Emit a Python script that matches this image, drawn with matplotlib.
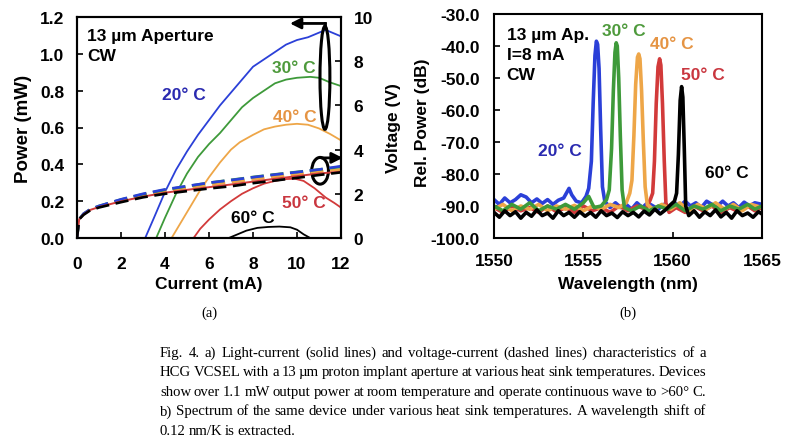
import matplotlib
matplotlib.use('Agg')
import matplotlib.pyplot as plt
from matplotlib.patches import Ellipse
from matplotlib.ticker import FormatStrFormatter

plt.rcParams['font.family'] = ['Liberation Sans', 'DejaVu Sans']
plt.rcParams['font.weight'] = 'bold'
plt.rcParams['axes.labelweight'] = 'bold'
plt.rcParams['axes.unicode_minus'] = False

# ---------------- (a) light-current, current (mA) / power (mW)
i20 = [3.1, 3.5, 4.0, 4.5, 5.0, 5.5, 6.0, 6.5, 7.0, 7.5, 8.0, 8.5, 9.0, 9.5, 10.0, 10.5, 11.0, 11.3, 11.6, 12.0]
p20 = [0.0, 0.11, 0.25, 0.37, 0.47, 0.56, 0.64, 0.72, 0.79, 0.86, 0.93, 0.97, 1.01, 1.05, 1.075, 1.09, 1.115, 1.13, 1.115, 1.095]
i30 = [3.6, 4.0, 4.5, 5.0, 5.5, 6.0, 6.5, 7.0, 7.5, 8.0, 8.5, 9.0, 9.5, 10.0, 10.6, 11.0, 11.5, 12.0]
p30 = [0.0, 0.11, 0.24, 0.35, 0.44, 0.51, 0.57, 0.64, 0.71, 0.76, 0.80, 0.84, 0.86, 0.87, 0.875, 0.87, 0.845, 0.825]
i40 = [4.3, 4.6, 5.0, 5.6, 6.0, 6.5, 7.0, 7.4, 8.0, 8.5, 9.0, 9.5, 10.0, 10.5, 11.0, 11.5, 12.0]
p40 = [0.0, 0.06, 0.14, 0.26, 0.33, 0.41, 0.48, 0.52, 0.56, 0.59, 0.605, 0.615, 0.62, 0.615, 0.595, 0.565, 0.53]
i50 = [5.3, 5.6, 6.0, 6.5, 7.0, 7.5, 8.0, 8.5, 9.0, 9.5, 9.9, 10.3, 10.8, 11.3, 11.7, 12.0]
p50 = [0.0, 0.05, 0.10, 0.155, 0.20, 0.24, 0.27, 0.295, 0.31, 0.32, 0.322, 0.31, 0.27, 0.22, 0.19, 0.165]
i60 = [6.9, 7.3, 7.7, 8.2, 8.7, 9.2, 9.7, 10.0, 10.3, 10.6]
p60 = [0.0, 0.02, 0.04, 0.055, 0.06, 0.062, 0.058, 0.045, 0.02, 0.0]

# voltage-current, current (mA) / voltage (V)
iv = [0, 0.1, 0.3, 0.6, 1, 2, 3, 4, 5, 6, 7, 8, 9, 10, 11, 12]
v20 = [0, 0.85, 1.1, 1.3, 1.45, 1.75, 2.0, 2.2, 2.35, 2.5, 2.62, 2.75, 2.87, 2.98, 3.1, 3.25]
v30 = [0, 0.85, 1.1, 1.3, 1.45, 1.74, 1.98, 2.18, 2.34, 2.5, 2.63, 2.76, 2.88, 2.99, 3.1, 3.22]
v40 = [0, 0.85, 1.08, 1.28, 1.42, 1.7, 1.93, 2.12, 2.27, 2.4, 2.52, 2.65, 2.77, 2.88, 3.0, 3.1]
v50 = [0, 0.85, 1.07, 1.27, 1.4, 1.66, 1.87, 2.05, 2.18, 2.3, 2.42, 2.55, 2.68, 2.8, 2.92, 3.0]
v60 = [0, 0.85, 1.05, 1.25, 1.38, 1.62, 1.84, 2.0, 2.12, 2.24, 2.34, 2.48, 2.6, 2.72, 2.85, 2.97]

# ---------------- (b) spectra at I=8 mA, (wavelength nm, rel. power dB)
spec20 = [(1550.0, -88.0), (1550.3, -89.5), (1550.6, -87.5), (1550.9, -89.0), (1551.2, -88.0), (1551.5, -86.5),
          (1551.8, -87.2), (1552.1, -89.0), (1552.4, -87.8), (1552.7, -89.2), (1553.0, -88.0), (1553.3, -89.5),
          (1553.6, -88.2), (1553.9, -87.5), (1554.05, -86.0), (1554.2, -84.5), (1554.35, -86.5), (1554.6, -88.5),
          (1554.9, -89.0), (1555.15, -87.0), (1555.3, -84.5), (1555.45, -76.0), (1555.55, -58.0), (1555.65, -43.0),
          (1555.73, -38.5), (1555.8, -39.5), (1555.88, -47.0), (1555.97, -66.0), (1556.07, -84.0), (1556.2, -88.5),
          (1556.5, -90.5), (1556.8, -89.0), (1557.1, -90.5), (1557.4, -89.5), (1557.7, -91.0), (1558.0, -89.0),
          (1558.3, -90.5), (1558.6, -89.0), (1558.9, -90.0), (1559.2, -91.0), (1559.5, -89.5), (1559.8, -90.5),
          (1560.1, -89.0), (1560.4, -90.0), (1560.7, -88.5), (1561.0, -90.0), (1561.3, -89.0), (1561.6, -90.5),
          (1561.9, -88.5), (1562.2, -89.5), (1562.5, -90.0), (1562.8, -88.5), (1563.1, -90.0), (1563.4, -89.0),
          (1563.7, -90.5), (1564.0, -88.8), (1564.3, -90.0), (1564.6, -89.0), (1565.0, -89.5)]
spec30 = [(1550.0, -90.0), (1550.5, -91.5), (1551.0, -89.5), (1551.5, -91.0), (1552.0, -89.0), (1552.5, -91.5),
          (1553.0, -90.0), (1553.5, -91.0), (1554.0, -89.5), (1554.5, -91.0), (1555.0, -89.0), (1555.3, -87.0),
          (1555.6, -90.5), (1556.0, -90.0), (1556.3, -88.0), (1556.45, -85.0), (1556.58, -72.0), (1556.68, -54.0),
          (1556.77, -42.0), (1556.84, -39.0), (1556.9, -40.0), (1556.98, -50.0), (1557.07, -68.0), (1557.17, -85.0),
          (1557.3, -90.5), (1557.7, -91.5), (1558.2, -90.0), (1558.7, -91.5), (1559.2, -90.0), (1559.7, -91.0),
          (1560.2, -89.5), (1560.7, -91.5), (1561.2, -90.0), (1561.7, -91.0), (1562.2, -89.5), (1562.7, -91.5),
          (1563.2, -90.0), (1563.7, -91.0), (1564.2, -89.5), (1564.6, -91.0), (1565.0, -90.0)]
spec40 = [(1550.0, -91.0), (1550.5, -89.5), (1551.0, -91.5), (1551.5, -90.0), (1552.0, -91.0), (1552.5, -89.5),
          (1553.0, -91.5), (1553.5, -90.0), (1554.0, -91.0), (1554.5, -89.8), (1555.0, -91.5), (1555.5, -90.0),
          (1556.0, -91.0), (1556.5, -89.5), (1557.0, -90.5), (1557.4, -89.0), (1557.6, -86.0), (1557.72, -82.0),
          (1557.83, -68.0), (1557.93, -52.0), (1558.03, -43.5), (1558.1, -42.5), (1558.17, -44.0), (1558.26, -54.0),
          (1558.36, -70.0), (1558.46, -84.0), (1558.58, -89.5), (1558.9, -91.0), (1559.4, -89.5), (1559.9, -91.0),
          (1560.4, -89.0), (1560.9, -91.5), (1561.4, -89.5), (1561.9, -91.0), (1562.4, -89.0), (1562.9, -91.0),
          (1563.4, -89.5), (1563.9, -91.5), (1564.4, -89.5), (1565.0, -90.5)]
spec50 = [(1550.0, -90.5), (1550.5, -92.0), (1551.0, -90.0), (1551.5, -91.5), (1552.0, -90.5), (1552.5, -92.0),
          (1553.0, -90.0), (1553.5, -91.8), (1554.0, -90.5), (1554.5, -92.0), (1555.0, -90.0), (1555.5, -91.5),
          (1556.0, -90.5), (1556.5, -92.0), (1557.0, -90.0), (1557.5, -91.5), (1558.0, -90.0), (1558.5, -91.0),
          (1558.75, -88.0), (1558.88, -86.0), (1558.98, -76.0), (1559.08, -58.0), (1559.18, -46.5), (1559.27, -44.0),
          (1559.34, -46.0), (1559.43, -58.0), (1559.53, -76.0), (1559.62, -89.0), (1559.8, -92.0), (1560.2, -90.5),
          (1560.7, -92.0), (1561.2, -90.0), (1561.7, -91.5), (1562.2, -90.0), (1562.7, -92.0), (1563.2, -90.5),
          (1563.7, -91.8), (1564.2, -90.0), (1564.6, -91.5), (1565.0, -90.5)]
spec60 = [(1550.0, -92.0), (1550.3, -93.5), (1550.6, -91.5), (1550.9, -93.0), (1551.2, -91.8), (1551.5, -93.8),
          (1551.8, -92.0), (1552.1, -93.2), (1552.4, -91.2), (1552.7, -93.0), (1553.0, -92.2), (1553.3, -93.8),
          (1553.6, -91.5), (1553.9, -93.0), (1554.2, -92.0), (1554.5, -93.5), (1554.8, -91.8), (1555.1, -93.2),
          (1555.4, -92.0), (1555.7, -93.5), (1556.0, -91.5), (1556.3, -93.0), (1556.6, -92.2), (1556.9, -93.6),
          (1557.2, -91.8), (1557.5, -93.0), (1557.8, -92.0), (1558.1, -93.4), (1558.4, -91.6), (1558.7, -92.8),
          (1559.0, -91.0), (1559.3, -92.5), (1559.6, -91.2), (1559.9, -89.5), (1560.1, -88.5), (1560.22, -86.0),
          (1560.32, -74.0), (1560.42, -57.0), (1560.5, -52.7), (1560.57, -56.0), (1560.65, -72.0), (1560.73, -90.0),
          (1560.9, -93.0), (1561.2, -91.5), (1561.5, -93.5), (1561.8, -91.8), (1562.1, -93.0), (1562.4, -91.2),
          (1562.7, -93.4), (1563.0, -92.0), (1563.3, -93.8), (1563.6, -91.5), (1563.9, -93.0), (1564.2, -92.2),
          (1564.5, -93.5), (1564.8, -91.8), (1565.0, -92.5)]

caption = ["Fig. 4. a) Light-current (solid lines) and voltage-current (dashed lines) characteristics of a",
           "HCG VCSEL with a 13 \u00b5m proton implant aperture at various heat sink temperatures. Devices",
           "show over 1.1 mW output power at room temperature and operate continuous wave to >60\u00b0 C.",
           "b) Spectrum of the same device under various heat sink temperatures. A wavelength shift of",
           "0.12 nm/K is extracted."]

c20, c30, c40, c50 = '#2b40d8', '#3e9a3a', '#eea648', '#d23a3a'
t20, t30, t40, t50 = '#2a2ab0', '#4e9a3c', '#e59443', '#c9363f'

W, H = 797, 439
fig = plt.figure(figsize=(W / 100, H / 100), dpi=100)


def px_axes(l, t, r, b):
    return fig.add_axes([l / W, 1 - b / H, (r - l) / W, (b - t) / H])


fs = 12.5

# ---------------- panel (a)
ax = px_axes(77, 18, 341, 239)
ax2 = ax.twinx()
for i, p, c in [(i20, p20, c20), (i30, p30, c30), (i40, p40, c40), (i50, p50, c50), (i60, p60, 'black')]:
    ax.plot(i, p, color=c, lw=1.3)
for v, c in [(v40, c40), (v30, c30), (v20, c20)]:
    ax2.plot(iv, v, color=c, lw=1.9, dashes=(5, 2.5))
ax2.plot(iv, v50, color=c50, lw=1.4)
ax2.plot(iv, v60, color='black', lw=1.9, dashes=(5, 2.5))

ax.set_xlim(0, 12)
ax.set_ylim(0, 1.2)
ax2.set_ylim(0, 10)
ax.set_xticks(range(0, 13, 2))
ax.set_yticks([0, 0.2, 0.4, 0.6, 0.8, 1.0, 1.2])
ax.yaxis.set_major_formatter(FormatStrFormatter('%.1f'))
ax2.set_yticks(range(0, 11, 2))
ax.tick_params(direction='in', length=4, width=1.2, labelsize=fs)
ax.tick_params(axis='x', pad=13)
ax.tick_params(axis='y', pad=9)
ax2.tick_params(direction='in', length=4, width=1.2, labelsize=fs, pad=9)
for a in (ax, ax2):
    for s in a.spines.values():
        s.set_linewidth(1.5)
ax.set_xlabel('Current (mA)', fontsize=fs)
ax.xaxis.set_label_coords(0.5, -0.17)
ax.set_ylabel('Power (mW)', fontsize=13.5)
ax.yaxis.set_label_coords(-0.17, 0.5)
ax2.set_ylabel('Voltage (V)', fontsize=fs)
ax2.yaxis.set_label_coords(1.17, 0.5)

# ellipses and arrows (drawn in power units on top of the voltage lines)
ax2.add_patch(Ellipse((11.27, 0.87), 0.45, 0.56, fill=False, lw=2.2, ec='black', transform=ax.transData))
ax2.add_patch(Ellipse((11.05, 0.365), 0.76, 0.145, fill=False, lw=2.2, ec='black', transform=ax.transData))
ax2.plot([11.27, 11.27], [1.14, 1.165], color='black', lw=2, transform=ax.transData)
ax2.annotate('', xy=(9.68, 1.165), xytext=(11.28, 1.165), xycoords=ax.transData, textcoords=ax.transData,
             arrowprops=dict(arrowstyle='-|>', lw=2, color='black', mutation_scale=16, shrinkA=0, shrinkB=0))
ax2.annotate('', xy=(12.08, 0.435), xytext=(11.1, 0.435), xycoords=ax.transData, textcoords=ax.transData,
             annotation_clip=False,
             arrowprops=dict(arrowstyle='-|>', lw=2, color='black', mutation_scale=16, shrinkA=0, shrinkB=0))

ax.text(0.47, 1.077, '13 \u00b5m Aperture', fontsize=fs, va='baseline')
ax.text(0.47, 0.966, 'CW', fontsize=fs, va='baseline')
ax.text(4.86, 0.779, '20\u00b0 C', color=t20, fontsize=fs, ha='center', va='center')
ax.text(9.86, 0.928, '30\u00b0 C', color=t30, fontsize=fs, ha='center', va='center')
ax.text(9.89, 0.66, '40\u00b0 C', color=t40, fontsize=fs, ha='center', va='center')
ax.text(10.32, 0.194, '50\u00b0 C', color=t50, fontsize=fs, ha='center', va='center')
ax.text(7.98, 0.109, '60\u00b0 C', color='black', fontsize=fs, ha='center', va='center')

# ---------------- panel (b)
bx = px_axes(494, 15, 762, 239)
for spec, c in [(spec20, c20), (spec50, c50), (spec40, c40), (spec30, c30), (spec60, 'black')]:
    wl, db = zip(*spec)
    bx.plot(wl, db, color=c, lw=2.6)
bx.set_xlim(1550, 1565)
bx.set_ylim(-100, -30)
bx.set_xticks([1550, 1555, 1560, 1565])
bx.set_yticks(range(-100, -29, 10))
bx.yaxis.set_major_formatter(FormatStrFormatter('%.1f'))
bx.tick_params(direction='in', length=4, width=1.2, labelsize=fs)
bx.tick_params(axis='x', pad=11)
bx.tick_params(axis='y', pad=10)
for s in bx.spines.values():
    s.set_linewidth(1.5)
bx.set_xlabel('Wavelength (nm)', fontsize=fs)
bx.xaxis.set_label_coords(0.5, -0.168)
bx.set_ylabel('Rel. Power (dB)', fontsize=fs)
bx.yaxis.set_label_coords(-0.239, 0.518)

bx.text(1550.71, -37.8, '13 \u00b5m Ap.', fontsize=fs, va='baseline')
bx.text(1550.71, -44.1, 'I=8 mA', fontsize=fs, va='baseline')
bx.text(1550.71, -50.3, 'CW', fontsize=fs, va='baseline')
bx.text(1557.24, -35.0, '30\u00b0 C', color=t30, fontsize=fs, ha='center', va='center')
bx.text(1559.94, -39.1, '40\u00b0 C', color=t40, fontsize=fs, ha='center', va='center')
bx.text(1561.67, -48.75, '50\u00b0 C', color=t50, fontsize=fs, ha='center', va='center')
bx.text(1553.69, -72.5, '20\u00b0 C', color=t20, fontsize=fs, ha='center', va='center')
bx.text(1563.02, -79.5, '60\u00b0 C', color='black', fontsize=fs, ha='center', va='center')

# ---------------- sub-captions and justified caption
serif = ['Liberation Serif', 'DejaVu Serif']
fig.text(209 / W, 1 - 313 / H, '(a)', family=serif, weight='normal', fontsize=10.5, ha='center', va='center')
fig.text(628 / W, 1 - 313 / H, '(b)', family=serif, weight='normal', fontsize=10.5, ha='center', va='center')

renderer = fig.canvas.get_renderer()
cap_left, cap_right = 160, 706
cap_base = [357, 376.5, 396, 415.5, 435]
min_gap = 2.6


def width_px(s, size):
    t = fig.text(0, 0, s, family=serif, weight='normal', fontsize=size)
    w = t.get_window_extent(renderer).width
    t.remove()
    return w


def words_px(s, size):
    return sum(width_px(w, size) for w in s.split(' '))


cap_fs = min(11.0, min(10 * (cap_right - cap_left - min_gap * (len(s.split(' ')) - 1)) / words_px(s, 10)
                       for s in caption[:-1]))
for k, (line, yb) in enumerate(zip(caption, cap_base)):
    words = line.split(' ')
    ts = [fig.text(0, 1 - yb / H, w, family=serif, weight='normal', fontsize=cap_fs, va='baseline') for w in words]
    ws = [t.get_window_extent(renderer).width for t in ts]
    gap = min_gap if k == len(caption) - 1 else (cap_right - cap_left - sum(ws)) / (len(words) - 1)
    x = cap_left
    for t, w in zip(ts, ws):
        t.set_x(x / W)
        x += w + gap

fig.savefig('out.png', dpi=100)
